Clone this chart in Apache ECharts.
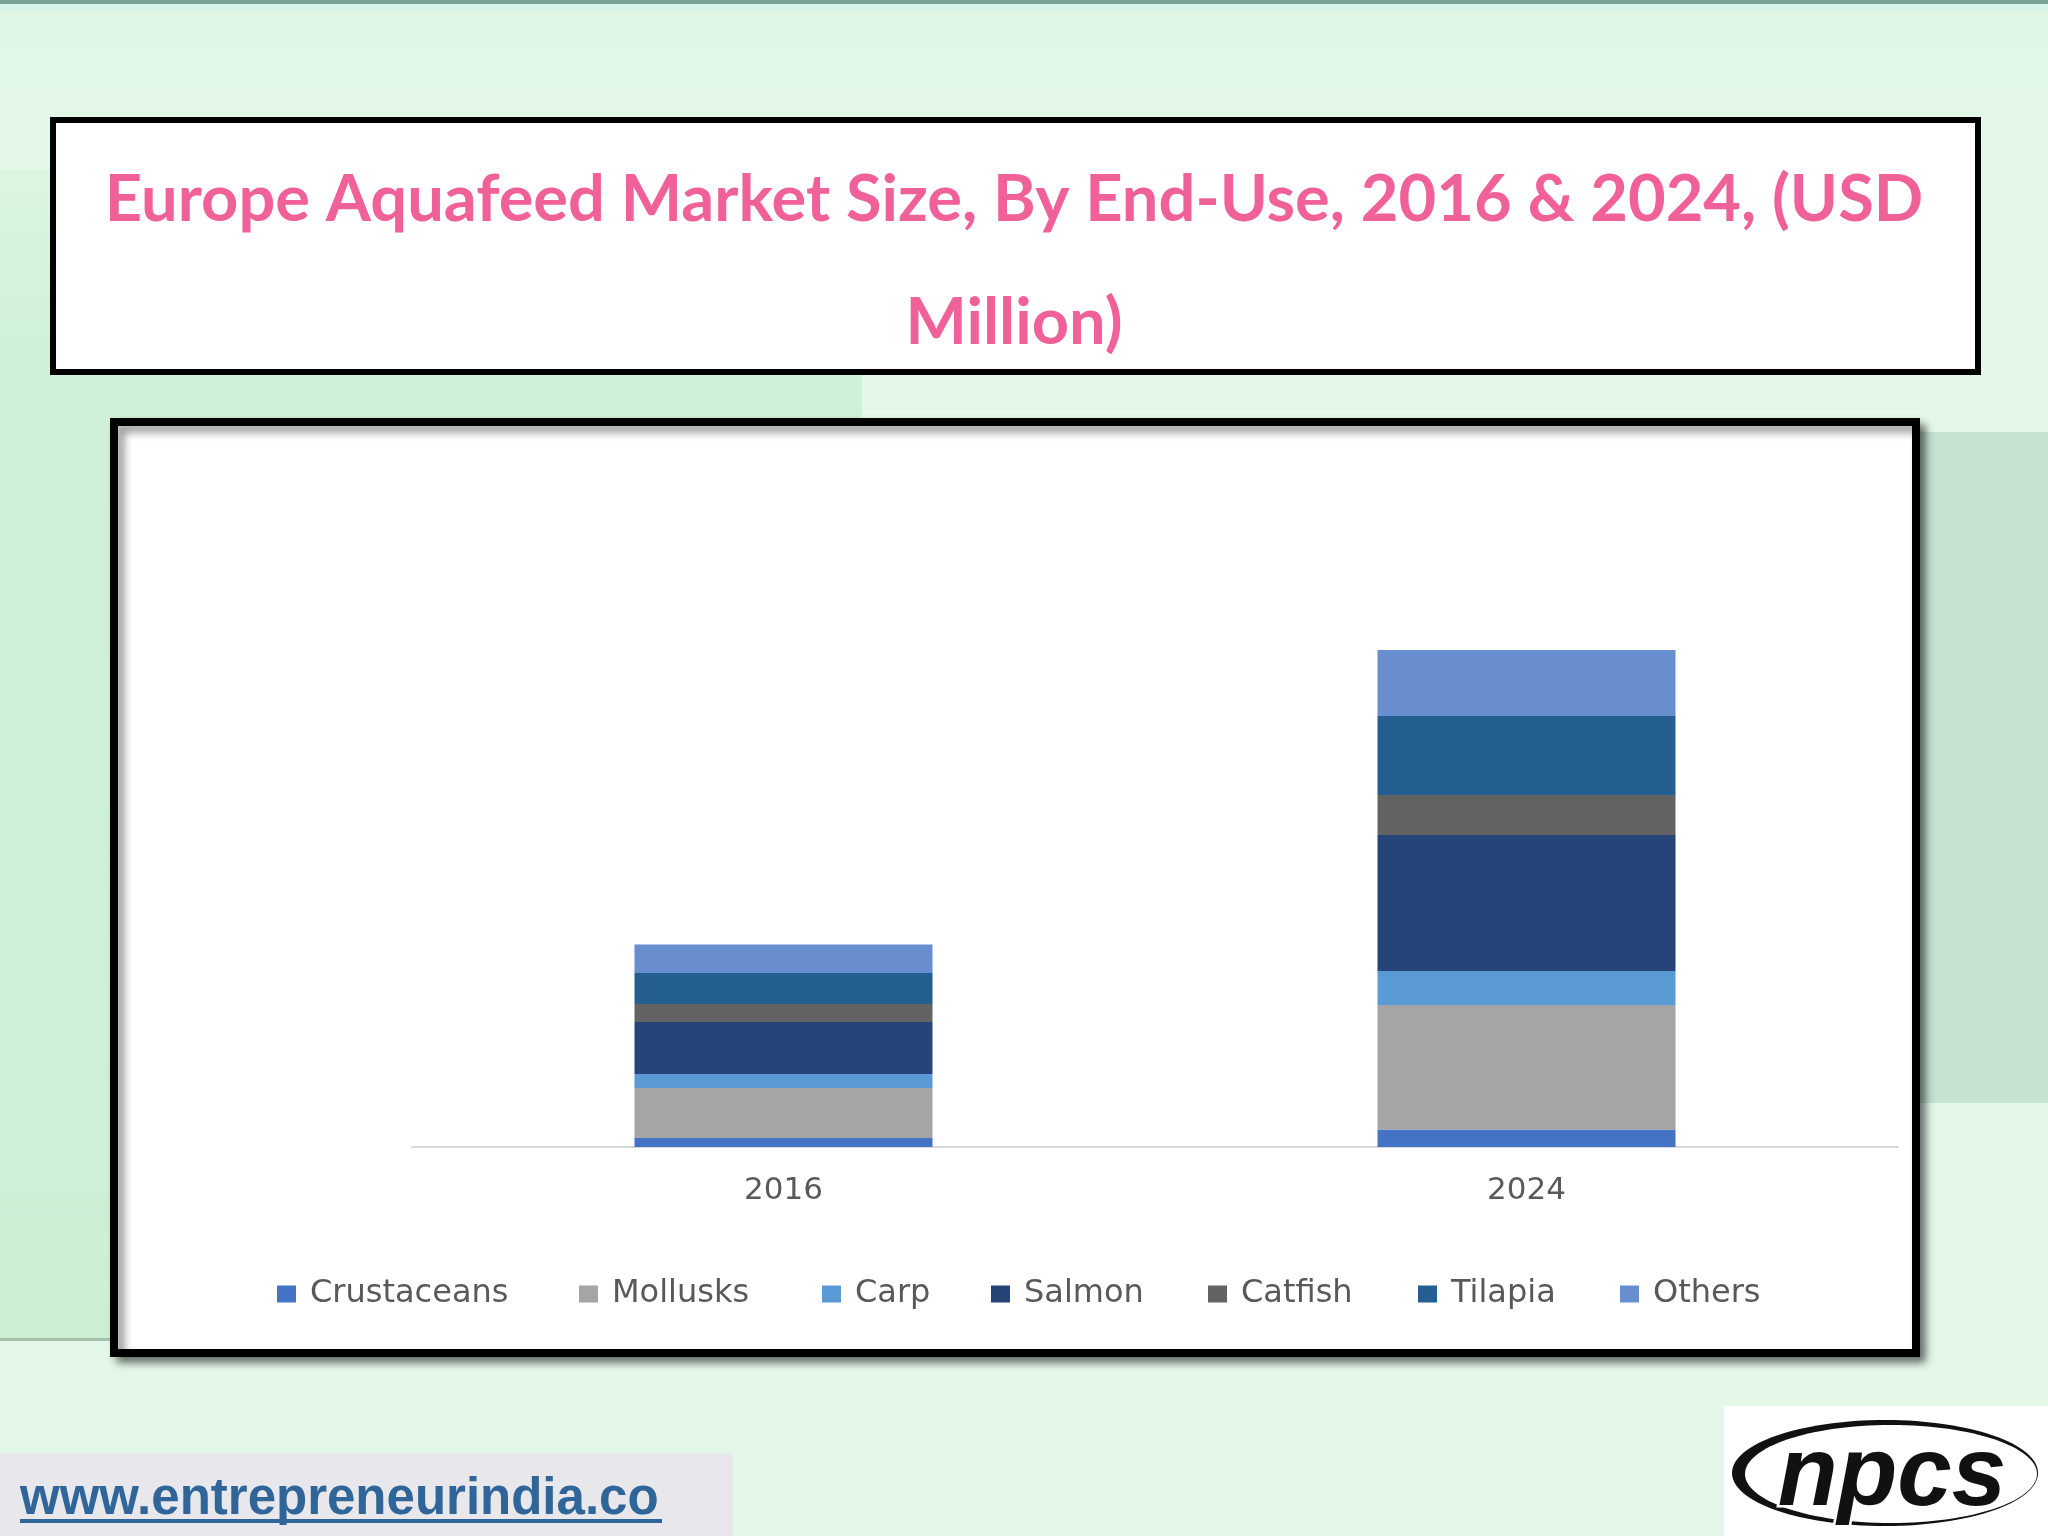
<!DOCTYPE html>
<html>
<head>
<meta charset="utf-8">
<script src="https://cdn.jsdelivr.net/npm/echarts@6/dist/echarts.min.js"></script>
<style>
html,body{margin:0;padding:0;background:#e3f8e7;}
#main{width:2048px;height:1536px;}
</style>
</head>
<body>
<div id="main"></div>
<script>
// ---- data ----
const categories = ['2016', '2024'];
const seriesNames = ['Crustaceans', 'Mollusks', 'Carp', 'Salmon', 'Catfish', 'Tilapia', 'Others'];
const crustaceans = [18, 35];
const mollusks = [100, 249];
const carp = [28, 68];
const salmon = [104, 272];
const catfish = [36, 80];
const tilapia = [62, 158];
const others = [57, 132];
const seriesColors = ['#4472C4', '#A5A5A5', '#5B9BD5', '#264478', '#636363', '#255E91', '#698ED0'];
const titleLines = ['Europe Aquafeed Market Size, By End-Use, 2016 & 2024, (USD', 'Million)'];
const websiteText = 'www.entrepreneurindia.co';
const logoText = 'npcs';

const seriesValues = [crustaceans, mollusks, carp, salmon, catfish, tilapia, others];
const legendLefts = [277, 579, 822, 991, 1208, 1418, 1620];

const chart = echarts.init(document.getElementById('main'));

const series = seriesNames.map((name, i) => ({
  name: name,
  type: 'bar',
  stack: 'total',
  barWidth: 298,
  data: seriesValues[i],
  itemStyle: { color: seriesColors[i] },
  emphasis: { disabled: true }
}));

const legends = seriesNames.map((name, i) => ({
  data: [name],
  left: legendLefts[i],
  top: 1278,
  padding: 0,
  itemWidth: 19,
  itemHeight: 17,
  icon: 'rect',
  selectedMode: false,
  textStyle: { fontFamily: 'DejaVu Sans', fontSize: 32, color: '#595959', padding: [0, 0, 0, 9] }
}));

const graphics = [
  // background bands
  { type: 'rect', z: -20, silent: true, shape: { x: 0, y: 0, width: 2048, height: 1536 },
    style: { fill: new echarts.graphic.LinearGradient(0, 0, 0, 1, [
      { offset: 0, color: '#dff6e6' }, { offset: 0.1, color: '#e4f8e7' }, { offset: 1, color: '#e3f8e9' }]) } },
  { type: 'rect', z: -19, silent: true, shape: { x: 0, y: 0, width: 2048, height: 4 }, style: { fill: '#7aa397' } },
  { type: 'rect', z: -19, silent: true, shape: { x: 0, y: 4, width: 2048, height: 6 }, style: { fill: '#d6f3ec' } },
  { type: 'rect', z: -19, silent: true, shape: { x: 0, y: 170, width: 862, height: 1170 },
    style: { fill: new echarts.graphic.LinearGradient(0, 0, 0, 1, [
      { offset: 0, color: '#dcf5e1' }, { offset: 0.15, color: '#d0f1d7' }, { offset: 1, color: '#cdf0d5' }]) } },
  { type: 'rect', z: -18, silent: true, shape: { x: 0, y: 1338, width: 112, height: 3 }, style: { fill: '#a9bfb0' } },
  { type: 'rect', z: -19, silent: true, shape: { x: 1920, y: 432, width: 128, height: 671 }, style: { fill: '#c5e3d0' } },
  // title box
  { type: 'rect', z: -10, silent: true, shape: { x: 53, y: 120, width: 1925, height: 252 },
    style: { fill: '#ffffff', stroke: '#000000', lineWidth: 6 } },
  { type: 'text', z: -9, silent: true, x: 1014, y: 200,
    style: { text: titleLines[0], font: 'bold 65px Lato', fill: '#ef6198', align: 'center', verticalAlign: 'middle' } },
  { type: 'text', z: -9, silent: true, x: 1014, y: 323,
    style: { text: titleLines[1], font: 'bold 65px Lato', fill: '#ef6198', align: 'center', verticalAlign: 'middle' } },
  // chart box
  { type: 'rect', z: -10, silent: true, shape: { x: 114, y: 422, width: 1802, height: 931 },
    style: { fill: '#ffffff', stroke: '#000000', lineWidth: 8,
      shadowBlur: 8, shadowOffsetX: 6, shadowOffsetY: 6, shadowColor: 'rgba(0,0,0,0.45)' } },
  // website footer
  { type: 'rect', z: -10, silent: true, shape: { x: 0, y: 1453, width: 733, height: 83 }, style: { fill: '#e8e8ec' } },
  { type: 'text', z: -9, silent: true, x: 20, y: 1500,
    style: { text: websiteText, font: 'bold 51px "Liberation Sans"', fill: '#2f6598', align: 'left', verticalAlign: 'middle' } },
  { type: 'rect', z: -9, silent: true, shape: { x: 20, y: 1519, width: 642, height: 4 }, style: { fill: '#2f6598' } },
  // logo
  { type: 'rect', z: -10, silent: true, shape: { x: 1724, y: 1406, width: 324, height: 130 }, style: { fill: '#ffffff' } },
  { type: 'ellipse', z: -9, silent: true, shape: { cx: 1885, cy: 1473, rx: 153, ry: 53 }, style: { fill: '#111111' } },
  { type: 'ellipse', z: -8, silent: true, shape: { cx: 1891, cy: 1474, rx: 146, ry: 49 }, style: { fill: '#ffffff' } },
  { type: 'text', z: -7, silent: true, x: 1892, y: 1478,
    style: { text: logoText, font: 'italic bold 98px "Liberation Sans"', fill: '#111111', stroke: '#ffffff', lineWidth: 5,
      align: 'center', verticalAlign: 'middle' } }
];

chart.setOption({
  animation: false,
  backgroundColor: 'transparent',
  graphic: { elements: graphics },
  legend: legends,
  grid: { left: 412, right: 150, top: 447, bottom: 389, containLabel: false },
  xAxis: {
    type: 'category',
    data: categories,
    axisLine: { lineStyle: { color: '#d9d9d9', width: 2 } },
    axisTick: { show: false },
    axisLabel: { fontFamily: 'DejaVu Sans', fontSize: 31, color: '#595959', margin: 28 }
  },
  yAxis: {
    type: 'value',
    min: 0,
    max: 1400,
    show: false,
    splitLine: { show: false }
  },
  series: series
});
</script>
</body>
</html>
